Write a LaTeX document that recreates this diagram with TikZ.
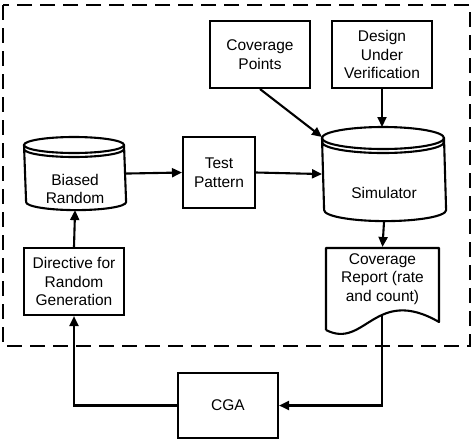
\documentclass[tikz,border=0pt]{standalone}
\usepackage{fontspec}
\setmainfont{Liberation Sans}
\usetikzlibrary{arrows.meta}

\begin{document}
\begin{tikzpicture}[x=1pt, y=-1pt, line width=2.1pt,
    font=\fontsize{15.5}{18.5}\selectfont,
    box/.style={draw, align=center, inner sep=0pt, minimum width=100pt, minimum height=67pt},
    drum/.style={align=center, inner sep=0pt, anchor=north west},
    arr/.style={-{Triangle[length=10pt, width=9pt]}}]
    \useasboundingbox (0,0) rectangle (474,440);

    \node[box] (cov) at (260,54.5) {Coverage\\Points};
    \node[box] (duv) at (382,54.5) {Design\\Under\\Verification};
    \node[box, minimum width=72pt, minimum height=71pt] (test) at (219,172.5) {Test\\Pattern};
    \node[box] (dir) at (74,281.5) {Directive for\\Random\\Generation};
    \node[box, minimum height=65pt] (cga) at (228,405.5) {CGA};
    \node[drum, text width=100pt, text height=47pt, text depth=24pt] (bias) at (24,137) {Biased\\Random};
    \node[drum, text width=122pt, text height=70pt, text depth=22pt] (sim) at (322,127) {Simulator};
    \node[align=center, inner sep=0pt, minimum width=113pt, minimum height=62pt] (rep) at (382.5,279) {Coverage\\Report (rate\\and count)};
    \coordinate (wave) at (382,315);

    % drums and report sheet
    \draw ([yshift=-8pt]bias.north west) arc[start angle=180, end angle=0, x radius=50pt, y radius=8pt]
        -- ([yshift=8pt]bias.south east) arc[start angle=0, end angle=-180, x radius=50pt, y radius=8pt] -- cycle
        ([yshift=-8pt]bias.north west) arc[start angle=180, end angle=360, x radius=50pt, y radius=8pt]
        ([yshift=-12pt]bias.north west) arc[start angle=180, end angle=360, x radius=50pt, y radius=8pt];
    \draw ([yshift=-11pt]sim.north west) arc[start angle=180, end angle=0, x radius=61pt, y radius=11pt]
        -- ([yshift=11pt]sim.south east) arc[start angle=0, end angle=-180, x radius=61pt, y radius=11pt] -- cycle
        ([yshift=-11pt]sim.north west) arc[start angle=180, end angle=360, x radius=61pt, y radius=11pt]
        ([yshift=-15pt]sim.north west) arc[start angle=180, end angle=360, x radius=61pt, y radius=11pt];
    \draw[line join=round] (326,330) -- (326,248) -- (439,248) -- (439,322)
        .. controls (375,285) and (365,350) .. (326,330);

    \draw[line width=2.5pt, dash pattern=on 15pt off 8pt] (3,5) rectangle (470,346);

    \draw[arr] (bias.east) -- (test.west);
    \draw[arr] (test.east) -- (sim.west);
    \draw[arr] (cov.south) -- ([yshift=-10pt]sim.north west);
    \draw[arr] (duv.south) -- (duv.south |- sim.north);
    \draw[arr] (sim.south) -- (rep.north);
    \draw[arr] (wave) |- (cga.east);
    \draw[arr] (cga.west) -| (dir.south);
    \draw[arr] (dir.north) -- (bias.south);
\end{tikzpicture}
\end{document}
